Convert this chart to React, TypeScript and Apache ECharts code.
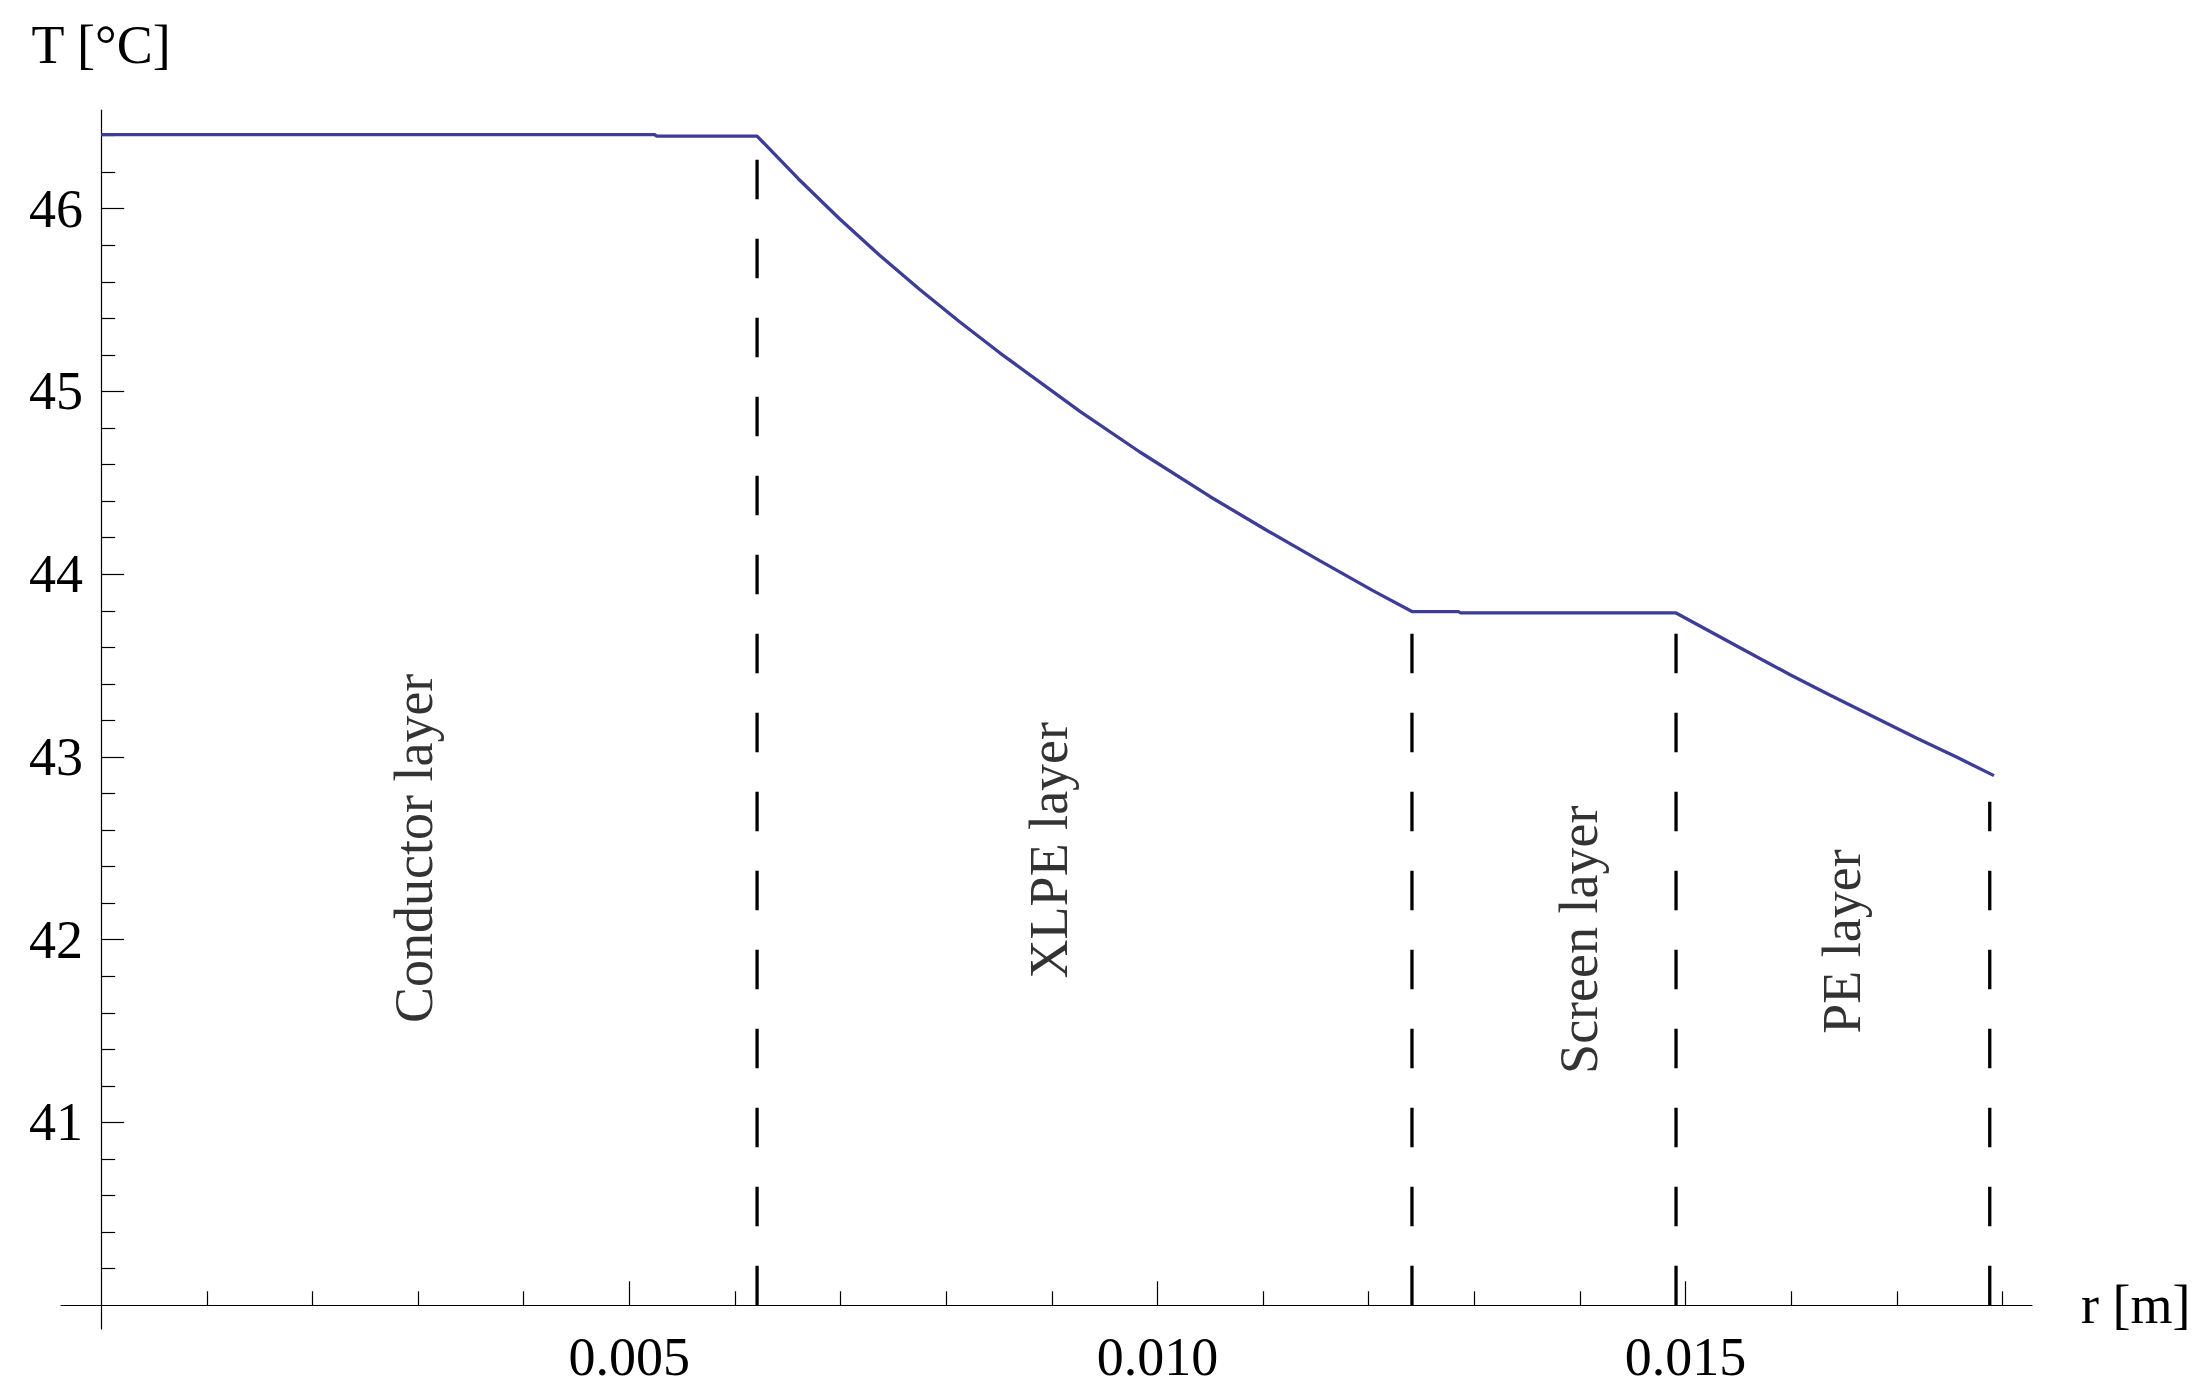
import React, { useEffect, useRef } from "react";
import * as echarts from "echarts";

// Temperature profile across the cable radius
const rValues = [
  0, 0.00524, 0.00526, 0.00621, 0.0066, 0.00699, 0.00737, 0.00775, 0.00813,
  0.00851, 0.00889, 0.00927, 0.00983, 0.0105, 0.01103, 0.01154, 0.01204,
  0.01241, 0.01285, 0.01287, 0.01491, 0.01552, 0.01599, 0.01637, 0.01678,
  0.01719, 0.01757, 0.01792,
];
const tValues = [
  46.405, 46.405, 46.397, 46.397, 46.164, 45.945, 45.745, 45.558, 45.38, 45.21,
  45.05, 44.89, 44.67, 44.424, 44.242, 44.073, 43.91, 43.796, 43.795, 43.788,
  43.788, 43.596, 43.45, 43.338, 43.22, 43.102, 42.998, 42.898,
];

// Layer boundaries (dashed lines)
const boundaryR = [0.00621, 0.01241, 0.01491, 0.01788];
const boundaryTop = [46.397, 43.796, 43.788, 42.755];
const boundaryBase = 40;

// Layer labels
const layerNames = ["Conductor layer", "XLPE layer", "Screen layer", "PE layer"];
const layerLabelR = [0.00296, 0.00897, 0.01399, 0.01648];
const layerLabelT = [42.5, 42.49, 42.0, 41.99];

// Ticks
const yMajorTicks = [41, 42, 43, 44, 45, 46];
const yMinorTicks = [
  40.2, 40.4, 40.6, 40.8, 41.2, 41.4, 41.6, 41.8, 42.2, 42.4, 42.6, 42.8,
  43.2, 43.4, 43.6, 43.8, 44.2, 44.4, 44.6, 44.8, 45.2, 45.4, 45.6, 45.8,
  46.2, 46.4,
];
const xMajorTicks = [0.005, 0.01, 0.015];
const xMinorTicks = [
  0.001, 0.002, 0.003, 0.004, 0.006, 0.007, 0.008, 0.009, 0.011, 0.012,
  0.013, 0.014, 0.016, 0.017, 0.018,
];

const FONT = '"Liberation Serif", "Times New Roman", serif';
const CURVE_COLOR = "#3d3d99";

export default function App() {
  const ref = useRef<HTMLDivElement>(null);

  useEffect(() => {
    if (!ref.current) return;
    const chart = echarts.init(ref.current, undefined, { renderer: "svg" });

    const axisLineStyle = { color: "#000", width: 1.2 };

    const option: any = {
      animation: false,
      backgroundColor: "#fff",
      grid: {
        left: 61,
        right: 178,
        top: 110,
        bottom: 68,
        containLabel: false,
        outerBoundsMode: "none",
      },
      xAxis: [
        {
          type: "value",
          position: "bottom",
          min: -0.00038,
          max: 0.01828,
          name: "r [m]",
          nameLocation: "end",
          nameGap: 49,
          nameTextStyle: { fontFamily: FONT, fontSize: 54, color: "#000" },
          axisLine: {
            show: true,
            onZero: true,
            onZeroAxisIndex: 2,
            lineStyle: axisLineStyle,
          },
          axisTick: {
            show: true,
            inside: true,
            length: 24,
            customValues: xMajorTicks,
            lineStyle: axisLineStyle,
          },
          axisLabel: {
            show: true,
            customValues: xMajorTicks,
            margin: 1,
            fontFamily: FONT,
            fontSize: 54,
            color: "#000",
            formatter: (v: number) => v.toFixed(3),
          },
          splitLine: { show: false },
        },
        {
          type: "value",
          position: "bottom",
          min: -0.00038,
          max: 0.01828,
          axisLine: { show: false, onZero: true, onZeroAxisIndex: 2 },
          axisTick: {
            show: true,
            inside: true,
            length: 14,
            customValues: xMinorTicks,
            lineStyle: axisLineStyle,
          },
          axisLabel: { show: false },
          splitLine: { show: false },
        },
      ],
      yAxis: [
        {
          type: "value",
          position: "left",
          min: 39.87,
          max: 46.54,
          name: "T [°C]",
          nameLocation: "end",
          nameGap: 38,
          nameTextStyle: { fontFamily: FONT, fontSize: 54, color: "#000" },
          axisLine: {
            show: true,
            onZero: true,
            onZeroAxisIndex: 0,
            lineStyle: axisLineStyle,
          },
          axisTick: {
            show: true,
            inside: true,
            length: 23,
            customValues: yMajorTicks,
            lineStyle: axisLineStyle,
          },
          axisLabel: {
            show: true,
            customValues: yMajorTicks,
            margin: -22,
            fontFamily: FONT,
            fontSize: 54,
            color: "#000",
          },
          splitLine: { show: false },
        },
        {
          type: "value",
          position: "left",
          min: 39.87,
          max: 46.54,
          axisLine: { show: false, onZero: true, onZeroAxisIndex: 0 },
          axisTick: {
            show: true,
            inside: true,
            length: 14,
            customValues: yMinorTicks,
            lineStyle: axisLineStyle,
          },
          axisLabel: { show: false },
          splitLine: { show: false },
        },
        {
          // helper axis: its zero is T = 40, where the r axis sits
          type: "value",
          position: "right",
          min: 39.87 - boundaryBase,
          max: 46.54 - boundaryBase,
          axisLine: { show: false, onZero: false },
          axisTick: { show: false },
          axisLabel: { show: false },
          splitLine: { show: false },
        },
      ],
      series: [
        {
          type: "line",
          xAxisIndex: 0,
          yAxisIndex: 0,
          data: rValues.map((r, i) => [r, tValues[i]]),
          showSymbol: false,
          symbol: "none",
          lineStyle: { color: CURVE_COLOR, width: 3.3 },
          silent: true,
          z: 3,
        },
        ...boundaryR.map((r, i) => ({
          type: "line",
          xAxisIndex: 0,
          yAxisIndex: 0,
          data: [
            [r, boundaryBase],
            [r, boundaryTop[i]],
          ],
          showSymbol: false,
          symbol: "none",
          lineStyle: { color: "#000", width: 3.3, type: [39.5, 39.5], cap: "butt" },
          silent: true,
          z: 2,
        })),
        {
          type: "scatter",
          xAxisIndex: 0,
          yAxisIndex: 0,
          symbolSize: 1,
          itemStyle: { color: "rgba(0,0,0,0)" },
          silent: true,
          data: layerNames.map((n, i) => ({
            name: n,
            value: [layerLabelR[i], layerLabelT[i]],
          })),
          label: {
            show: true,
            position: "inside",
            rotate: 90,
            formatter: "{b}",
            fontFamily: FONT,
            fontSize: 54,
            color: "#000",
          },
        },
      ],
    };

    chart.setOption(option);
    return () => chart.dispose();
  }, []);

  return (
    <div
      ref={ref}
      style={{
        position: "fixed",
        left: 0,
        top: 0,
        width: 2210,
        height: 1397,
        background: "#fff",
      }}
    />
  );
}
